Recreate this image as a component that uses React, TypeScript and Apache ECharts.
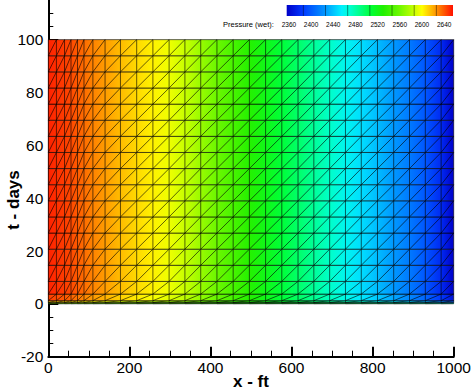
import React, { useEffect, useRef } from "react";
import * as echarts from "echarts";

// Mesh nodes (x - ft) and time levels (t - days)
const xNodes = [0, 20, 40, 56, 72, 88, 110, 140, 178, 218, 258, 298, 337, 376, 416, 456, 496, 536, 576, 616, 655, 694, 733, 772, 812, 852, 891, 930, 969, 1000];
const tNodes = [0, 0.1, 0.25, 0.5, 1.2, 3.7, 8.5, 14.6, 20.7, 26.8, 32.9, 39, 45.1, 51.2, 57.3, 63.4, 69.5, 75.6, 81.7, 87.8, 93.9, 100];
// Pressure (wet) at each x node after the early transient
const pressureLate = [2652, 2649, 2646, 2643, 2639, 2635, 2630, 2624, 2616, 2609, 2603, 2596, 2586, 2572, 2558, 2545, 2532, 2520, 2508, 2496, 2484, 2472, 2460, 2449, 2438, 2426, 2413, 2398, 2378, 2356];
// Fraction of the way from the initial pressure to pressureLate at each time level
const approach = [0, 0.1, 0.3, 0.55, 0.9, 1, 1, 1, 1, 1, 1, 1, 1, 1, 1, 1, 1, 1, 1, 1, 1, 1];
const initialPressure = 2520;

const yMajorTicks = [-20, 0, 20, 40, 60, 80, 100];
const yMinorTicks = [-15, -10, -5, 5, 10, 15, 25, 30, 35, 45, 50, 55, 65, 70, 75, 85, 90, 95, 105, 110];

const legendLevels = [2360, 2400, 2440, 2480, 2520, 2560, 2600, 2640];
const legendBands = [2386, 2426, 2466, 2506, 2546, 2586, 2626];
const legendMin = 2356;
const legendMax = 2656;

// colour map (pressure -> colour)
const cmapP = [2356, 2385, 2426, 2455, 2470, 2490, 2510, 2530, 2560, 2586, 2600, 2615, 2627, 2645, 2656];
const cmapC = ["#0000c8", "#0038ff", "#0098ff", "#00f0ff", "#00ffd0", "#00ff80", "#00ff30", "#20f000", "#70f800", "#c8ff00", "#ffff00", "#ffc000", "#ff9000", "#ff4000", "#ff1000"];

function hexToRgb(h: string) {
  return [parseInt(h.slice(1, 3), 16), parseInt(h.slice(3, 5), 16), parseInt(h.slice(5, 7), 16)];
}
function colorAt(p: number) {
  if (p <= cmapP[0]) return cmapC[0];
  if (p >= cmapP[cmapP.length - 1]) return cmapC[cmapC.length - 1];
  for (let k = 0; k < cmapP.length - 1; k++) {
    if (p >= cmapP[k] && p <= cmapP[k + 1]) {
      const f = (p - cmapP[k]) / (cmapP[k + 1] - cmapP[k]);
      const a = hexToRgb(cmapC[k]);
      const b = hexToRgb(cmapC[k + 1]);
      const c = a.map((v, i) => Math.round(v + (b[i] - v) * f));
      return `rgb(${c[0]},${c[1]},${c[2]})`;
    }
  }
  return cmapC[0];
}
function pressureAt(i: number, j: number) {
  return initialPressure + approach[j] * (pressureLate[i] - initialPressure);
}

const FONT = '"Liberation Sans", Arial, Helvetica, sans-serif';

export default function App() {
  const ref = useRef<HTMLDivElement>(null);
  useEffect(() => {
    if (!ref.current) return;
    const chart = echarts.init(ref.current, undefined, { renderer: "svg" });
    const n = xNodes.length;
    const lineStroke = "rgba(0,0,0,0.68)";
    const lw = 0.9;

    const rows = tNodes.slice(0, -1).map((_, j) => [j]);

    const barX = 286.7;
    const barW = 166.3;
    const barY = 5;
    const barH = 11;
    const lx = (v: number) => barX + ((v - legendMin) / (legendMax - legendMin)) * barW;
    const legendStops = cmapP.map((p, k) => ({ offset: (p - legendMin) / (legendMax - legendMin), color: cmapC[k] }));

    const graphics: any[] = [
      {
        type: "rect",
        shape: { x: barX, y: barY, width: barW, height: barH },
        style: { fill: new echarts.graphic.LinearGradient(0, 0, 1, 0, legendStops) },
        z: 10,
      },
      ...legendBands.map((v) => ({
        type: "line",
        shape: { x1: lx(v), y1: barY, x2: lx(v), y2: barY + barH },
        style: { stroke: "rgba(0,0,0,0.55)", lineWidth: 0.8 },
        z: 11,
      })),
      ...legendLevels.map((v) => ({
        type: "text",
        x: lx(v),
        y: 24,
        style: { text: String(v), font: `6.5px ${FONT}`, fill: "#000", align: "center", verticalAlign: "middle" },
        z: 11,
      })),
      {
        type: "text",
        x: 223,
        y: 24,
        style: { text: "Pressure (wet):", font: `7.5px ${FONT}`, fill: "#000", align: "left", verticalAlign: "middle" },
        z: 11,
      },
      {
        type: "text",
        x: 13,
        y: 200,
        rotation: Math.PI / 2,
        style: { text: "t - days", font: `bold 17px ${FONT}`, fill: "#000", align: "center", verticalAlign: "middle" },
        z: 11,
      },
      {
        type: "text",
        x: 251,
        y: 381,
        style: { text: "x - ft", font: `bold 17px ${FONT}`, fill: "#000", align: "center", verticalAlign: "middle" },
        z: 11,
      },
    ];

    chart.setOption({
      animation: false,
      backgroundColor: "#fff",
      grid: { left: 48.3, right: 20.3, top: 0, bottom: 34.3, outerBoundsMode: "none", containLabel: false },
      graphic: graphics,
      xAxis: {
        type: "value",
        min: 0,
        max: 1000,
        interval: 200,
        axisLine: { show: true, onZero: false, lineStyle: { color: "#000", width: 2 } },
        axisTick: { show: true, inside: true, length: 10, lineStyle: { color: "#000", width: 2 } },
        minorTick: { show: true, splitNumber: 4, length: 6, lineStyle: { color: "#000", width: 1 } },
        axisLabel: { fontFamily: FONT, fontSize: 15.5, color: "#000", margin: 3, formatter: (v: number) => String(v) },
        splitLine: { show: false },
      },
      yAxis: [
        {
          type: "value",
          min: -20,
          max: 115,
          position: "left",
          axisLine: { show: true, onZero: false, lineStyle: { color: "#000", width: 2 } },
          axisTick: { show: true, inside: true, length: 10, customValues: yMajorTicks, lineStyle: { color: "#000", width: 2 } },
          axisLabel: { customValues: yMajorTicks, fontFamily: FONT, fontSize: 15.5, color: "#000", margin: 5, formatter: (v: number) => String(v) },
          splitLine: { show: false },
        },
        {
          type: "value",
          min: -20,
          max: 115,
          position: "left",
          offset: 0,
          axisLine: { show: false },
          axisTick: { show: true, inside: true, length: 5, customValues: yMinorTicks, lineStyle: { color: "#000", width: 1 } },
          axisLabel: { show: false },
          splitLine: { show: false },
        },
      ],
      series: [
        {
          type: "custom",
          name: "Pressure (wet)",
          xAxisIndex: 0,
          yAxisIndex: 0,
          data: rows,
          encode: { x: 0 },
          clip: false,
          renderItem: (params: any, api: any) => {
            const j = api.value(0);
            const tB = tNodes[j];
            const tT = tNodes[j + 1];
            const bottom = xNodes.map((x) => api.coord([x, tB]));
            const top = xNodes.map((x) => api.coord([x, tT]));
            const left = bottom[0][0];
            const right = bottom[n - 1][0];
            const yB = bottom[0][1];
            const yT = top[0][1];
            const stops = xNodes.map((x, i) => ({
              offset: (x - xNodes[0]) / (xNodes[n - 1] - xNodes[0]),
              color: colorAt((pressureAt(i, j) + pressureAt(i, j + 1)) / 2),
            }));
            const children: any[] = [
              {
                type: "rect",
                shape: { x: left, y: yT, width: right - left, height: yB - yT },
                style: { fill: new echarts.graphic.LinearGradient(0, 0, 1, 0, stops) },
              },
            ];
            const thin = yB - yT < 1.5;
            const st = { stroke: thin ? "rgba(0,0,0,0.45)" : lineStroke, lineWidth: thin ? 0.6 : lw, fill: null };
            children.push({ type: "line", shape: { x1: left, y1: yB, x2: right, y2: yB }, style: st });
            children.push({ type: "line", shape: { x1: left, y1: yT, x2: right, y2: yT }, style: st });
            for (let i = 0; i < n; i++) {
              children.push({ type: "line", shape: { x1: bottom[i][0], y1: yB, x2: top[i][0], y2: yT }, style: st });
              if (i < n - 1) {
                children.push({ type: "line", shape: { x1: bottom[i][0], y1: yB, x2: top[i + 1][0], y2: yT }, style: st });
              }
            }
            return { type: "group", children };
          },
        },
      ],
    });
    return () => chart.dispose();
  }, []);
  return (
    <div
      ref={ref}
      style={{ position: "absolute", left: 0, top: 0, width: 474, height: 391, background: "#fff" }}
    />
  );
}
